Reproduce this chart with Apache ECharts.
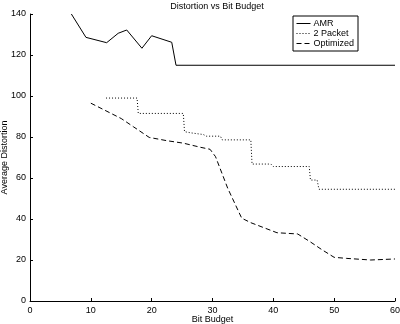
<!DOCTYPE html>
<html>
<head>
<meta charset="utf-8">
<script src="https://cdn.jsdelivr.net/npm/echarts@6/dist/echarts.min.js"></script>
<style>
  html, body { margin: 0; padding: 0; background: #fff; }
  #chart { width: 400px; height: 324px; }
</style>
</head>
<body>
<div id="chart"></div>
<script>
// Distortion vs bit budget for three coding schemes: [bit budget, average distortion]
const amr = [
  [6.8, 140], [9.2, 128.6], [12.6, 126], [14.5, 130.6], [15.9, 132.2],
  [18.4, 123.3], [20, 129.4], [23.3, 126.2], [24, 115], [60, 115]
];
const twoPacket = [
  [12.5, 99], [17.6, 99], [17.8, 91.5], [25.2, 91.5], [25.4, 82.6],
  [26.5, 82], [28.5, 81.2], [29, 80.4], [31.3, 80.4], [31.6, 78.6],
  [36.3, 78.6], [36.5, 66.8], [39.6, 66.8], [40, 65.6], [45.9, 65.6],
  [46.1, 59], [47.2, 59], [47.5, 54.5], [60, 54.5]
];
const optimized = [
  [10, 96.5], [12, 93.5], [15, 89], [17, 85], [19.6, 79.8], [22.5, 78.2],
  [25.2, 77], [28, 75], [29.6, 74], [30.5, 70.4], [32.5, 55], [34.8, 40.4],
  [36.3, 38.2], [40.6, 33.3], [44, 32.7], [46, 29], [48, 25], [50, 21.3],
  [52, 20.8], [56, 20], [60, 20.5]
];
const seriesNames = ['AMR', '2 Packet', 'Optimized'];
const xTicks = { min: 0, max: 60, step: 10 };
const yTicks = { min: 0, max: 140, step: 20 };

const font = 'Liberation Sans, Arial, Helvetica, sans-serif';
const chart = echarts.init(document.getElementById('chart'), null, { renderer: 'canvas' });

function lineSeries(name, data, type) {
  return {
    name: name,
    type: 'line',
    data: data,
    symbol: 'none',
    smooth: false,
    animation: false,
    lineStyle: { color: '#000', width: 1, type: type },
    itemStyle: { color: '#000' }
  };
}

chart.setOption({
  animation: false,
  backgroundColor: '#fff',
  title: {
    text: 'Distortion vs Bit Budget',
    left: 212, top: -3, textAlign: 'center',
    textStyle: { fontFamily: font, fontSize: 9, fontWeight: 'normal', color: '#000' }
  },
  legend: {
    orient: 'vertical',
    left: 293, top: 16,
    padding: [3, 4, 3, 3],
    itemGap: 1,
    itemWidth: 14, itemHeight: 8,
    borderColor: '#000', borderWidth: 1,
    backgroundColor: '#fff',
    itemStyle: { opacity: 0 },
    lineStyle: { opacity: 1, width: 1 },
    textStyle: { fontFamily: font, fontSize: 9, color: '#000', padding: [0, 0, 0, -2] },
    data: seriesNames
  },
  grid: { left: 30, right: 5, top: 14, bottom: 23, containLabel: false, outerBoundsMode: 'none' },
  xAxis: {
    type: 'value',
    min: xTicks.min, max: xTicks.max, interval: xTicks.step,
    name: 'Bit Budget', nameLocation: 'middle', nameGap: 14, nameMoveOverlap: false,
    nameTextStyle: { fontFamily: font, fontSize: 9, color: '#000', verticalAlign: 'top' },
    axisLine: { show: true, lineStyle: { color: '#000', width: 1 } },
    axisTick: { show: true, inside: true, length: 3, lineStyle: { color: '#000' } },
    axisLabel: { fontFamily: font, fontSize: 9, color: '#000', margin: 5 },
    splitLine: { show: false }
  },
  yAxis: {
    type: 'value',
    min: yTicks.min, max: yTicks.max, interval: yTicks.step,
    name: 'Average Distortion', nameLocation: 'middle', nameGap: 21, nameMoveOverlap: false,
    nameTextStyle: { fontFamily: font, fontSize: 9, color: '#000' },
    axisLine: { show: true, lineStyle: { color: '#000', width: 1 } },
    axisTick: { show: true, inside: true, length: 3, lineStyle: { color: '#000' } },
    axisLabel: { fontFamily: font, fontSize: 9, color: '#000', margin: 4 },
    splitLine: { show: false }
  },
  series: [
    lineSeries(seriesNames[0], amr, 'solid'),
    lineSeries(seriesNames[1], twoPacket, [1, 2]),
    lineSeries(seriesNames[2], optimized, [5, 3])
  ]
});
</script>
</body>
</html>
